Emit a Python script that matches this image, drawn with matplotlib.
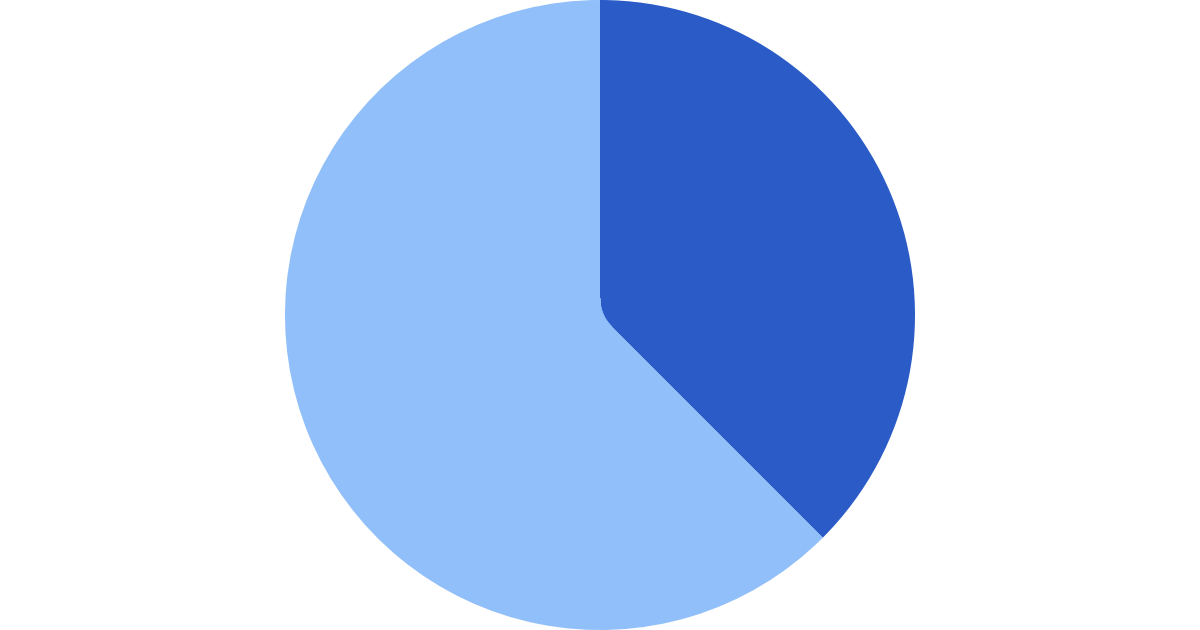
import numpy as np
import matplotlib.pyplot as plt
from matplotlib.patches import Polygon

# Data
labels = ['A', 'B']
values = [37.5, 62.5]
colors = ['#2a5bc6', '#90bff9']

fig = plt.figure(figsize=(12, 6.3), dpi=100)
ax = fig.add_axes([0, 0, 1, 1])

wedges, _ = ax.pie(values, colors=colors, startangle=90, counterclock=False,
                   radius=1.0, wedgeprops={'linewidth': 0})

# round off the inner corner of the dark slice
w = wedges[0]
a1, a2 = np.radians(w.theta1), np.radians(w.theta2)
u1 = np.array([np.cos(a1), np.sin(a1)])
u2 = np.array([np.cos(a2), np.sin(a2)])
half = (a2 - a1) / 2
r = 0.13
d = r / np.tan(half)
bis = (u1 + u2) / np.linalg.norm(u1 + u2)
c = bis * r / np.sin(half)
t1, t2 = d * u1, d * u2
b1 = np.arctan2(*(t1 - c)[::-1])
b2 = np.arctan2(*(t2 - c)[::-1])
if b2 - b1 > np.pi:
    b2 -= 2 * np.pi
elif b1 - b2 > np.pi:
    b2 += 2 * np.pi
ang = np.linspace(b1, b2, 40)
arc = np.column_stack([c[0] + r * np.cos(ang), c[1] + r * np.sin(ang)])
pts = np.vstack([[0, 0], arc])
ax.add_patch(Polygon(pts, closed=True, facecolor=colors[1],
                     edgecolor=colors[1], linewidth=0.6, zorder=3))

ax.set_xlim(-600 / 315, 600 / 315)
ax.set_ylim(-1, 1)
ax.set_aspect('equal')
ax.axis('off')

fig.savefig('out.png', dpi=100, facecolor='white')
